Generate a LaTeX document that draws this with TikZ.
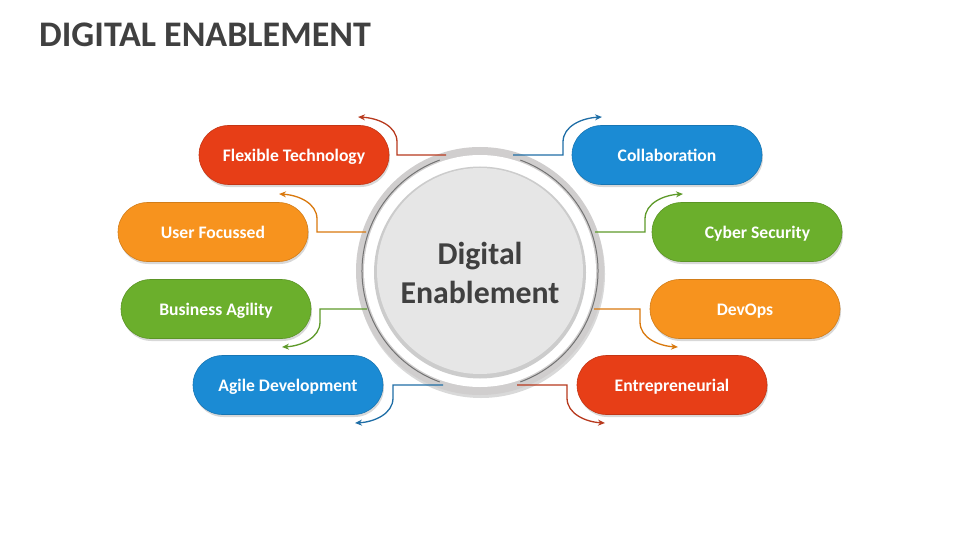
\documentclass[tikz,border=0pt]{standalone}
\usepackage{fontspec}
\setmainfont{Carlito}
\usetikzlibrary{shadows,arrows.meta}
\definecolor{pred}{HTML}{E73E17}
\definecolor{porange}{HTML}{F7931E}
\definecolor{pgreen}{HTML}{6BAF2C}
\definecolor{pblue}{HTML}{1B8BD4}
\definecolor{cred}{HTML}{B83A1E}
\definecolor{corange}{HTML}{D9790E}
\definecolor{cgreen}{HTML}{5E9A2A}
\definecolor{cblue}{HTML}{1F6EA6}
\definecolor{txtgray}{HTML}{404040}
\definecolor{ringgray}{HTML}{D0CECE}
\definecolor{discgray}{HTML}{E6E6E6}
\tikzset{
  pill/.style={rounded corners=29.5pt, minimum width=190pt, minimum height=59pt,
    text=white, font=\fontsize{17.6}{20}\selectfont\bfseries, inner sep=0pt,
    text height=14.5pt, text depth=2.5pt,
    draw=#1!85!black, line width=0.6pt, fill=#1,
    drop shadow={shadow xshift=1pt, shadow yshift=-2.5pt, opacity=0.3}},
  conn/.style={draw=#1, line width=1.3pt, -{Stealth[length=7pt,width=6pt]}},
}
\begin{document}
\begin{tikzpicture}[x=1pt,y=-1pt]
\useasboundingbox (0,0) rectangle (960,540);
\fill[white] (0,0) rectangle (960,540);
% title
\node[anchor=west, text=txtgray, font=\fontsize{36}{40}\selectfont\bfseries, inner sep=0pt] (title) at (39,35) {DIGITAL ENABLEMENT};
% center circle
\fill[gray!30] (481,274) circle (124);
\fill[ringgray] (480,271) circle (124);
\fill[white] (480,271) circle (116);
\draw[gray!90!black, line width=1pt] (480,271) ++(110:118) arc (110:250:118);
\draw[gray!90!black, line width=1pt] (480,271) ++(-70:118) arc (-70:70:118);
\fill[gray!40] (480,272.5) circle (106);
\node[circle, fill=discgray, minimum size=206pt, inner sep=0pt] (hub) at (480,271) {};
\node[align=center, text=txtgray, font=\fontsize{31.8}{39}\selectfont\bfseries] (hubtext) at (480,273) {Digital\\Enablement};
% pills
\node[pill=pred] (p1) at (294,155) {Flexible Technology};
\node[pill=porange] (p2) at (213,232) {User Focussed};
\node[pill=pgreen] (p3) at (216,309) {Business Agility};
\node[pill=pblue] (p4) at (288,385) {Agile Development};
\node[pill=pblue] (p5) at (667,155) {Collaboration};
\node[pill=pgreen] (p6) at (747,232) {\hspace*{21pt}Cyber Security};
\node[pill=porange] (p7) at (745,309) {DevOps};
\node[pill=pred] (p8) at (672,385) {Entrepreneurial};
% connector end points
\coordinate (s1) at (446,155); \coordinate (t1) at (358,117);
\coordinate (s2) at (366,232); \coordinate (t2) at (279,194);
\coordinate (s3) at (367,309); \coordinate (t3) at (282,347);
\coordinate (s4) at (443,385); \coordinate (t4) at (355,423);
\coordinate (s5) at (513,155); \coordinate (t5) at (602,117);
\coordinate (s6) at (595,232); \coordinate (t6) at (683,194);
\coordinate (s7) at (594,309); \coordinate (t7) at (678,347);
\coordinate (s8) at (517,385); \coordinate (t8) at (605,423);
% connectors
\draw[conn=cred] (s1) -- (397,155) -- (397,142) .. controls (397,126) and (378,118) .. (t1);
\draw[conn=corange] (s2) -- (317,232) -- (317,219) .. controls (317,203) and (298,195) .. (t2);
\draw[conn=cgreen] (s3) -- (320,309) -- (320,322) .. controls (320,338) and (301,346) .. (t3);
\draw[conn=cblue] (s4) -- (393,385) -- (393,398) .. controls (393,414) and (374,422) .. (t4);
\draw[conn=cblue] (s5) -- (563,155) -- (563,142) .. controls (563,126) and (582,118) .. (t5);
\draw[conn=cgreen] (s6) -- (645,232) -- (645,219) .. controls (645,203) and (664,195) .. (t6);
\draw[conn=corange] (s7) -- (640,309) -- (640,322) .. controls (640,338) and (659,346) .. (t7);
\draw[conn=cred] (s8) -- (567,385) -- (567,398) .. controls (567,414) and (586,422) .. (t8);
\end{tikzpicture}
\end{document}
